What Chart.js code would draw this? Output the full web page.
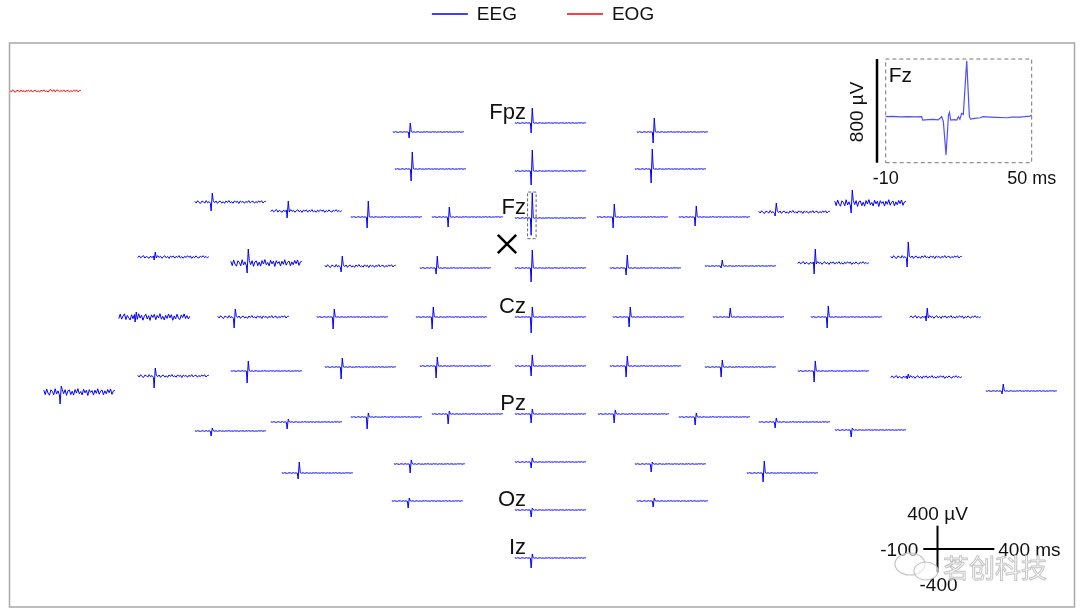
<!DOCTYPE html>
<html>
<head>
<meta charset="utf-8">
<script src="https://cdn.jsdelivr.net/npm/chart.js@4.4.1/dist/chart.umd.min.js"></script>
<style>
  html, body { margin:0; padding:0; background:#fff; }
  #wrap { width:1080px; height:615px; position:relative; }
</style>
</head>
<body>
<div id="wrap"><canvas id="chart"></canvas></div>
<script>
// montage: channel names and layout coordinates (origin = Cz, t=0 point of each trace)
const channels = ['Fp1','Fpz','Fp2','AF3','AFz','AF4',
  'F7','F5','F3','F1','Fz','F2','F4','F6','F8',
  'FT7','FC5','FC3','FC1','FCz','FC2','FC4','FC6','FT8',
  'T7','C5','C3','C1','Cz','C2','C4','C6','T8',
  'TP9','TP7','CP5','CP3','CP1','CPz','CP2','CP4','CP6','TP8','TP10',
  'P7','P5','P3','P1','Pz','P2','P4','P6','P8',
  'PO7','PO3','POz','PO4','PO8','O1','Oz','O2','Iz'];
const chanX = [-1.22,0,1.22,-1.20,0,1.20,
  -3.20,-2.44,-1.64,-0.83,0,0.82,1.64,2.44,3.20,
  -3.77,-2.84,-1.90,-0.95,0,0.95,1.90,2.83,3.76,
  -3.96,-2.97,-1.98,-0.99,0,0.98,1.98,2.96,3.95,
  -4.71,-3.77,-2.84,-1.90,-0.95,0,0.95,1.90,2.83,3.76,4.71,
  -3.20,-2.44,-1.64,-0.83,0,0.83,1.64,2.44,3.20,
  -2.33,-1.21,0,1.20,2.32,-1.23,0,1.22,0];
const chanY = [1.85,1.94,1.85,1.48,1.46,1.48,
  1.15,1.06,1.00,1.00,0.99,1.00,1.00,1.05,1.14,
  0.60,0.54,0.51,0.49,0.49,0.49,0.51,0.54,0.60,
  0,0,0,0,0,0,0,0,0,
  -0.75,-0.59,-0.54,-0.50,-0.49,-0.49,-0.49,-0.50,-0.54,-0.60,-0.74,
  -1.14,-1.05,-1.00,-0.97,-0.97,-0.97,-1.00,-1.05,-1.13,
  -1.56,-1.47,-1.45,-1.47,-1.56,-1.84,-1.93,-1.84,-2.41];

// TMS artefact peaks per channel (µV)
const spikeUp = [154,257,240,292,360,343,
  154,172,274,172,432,223,189,154,223,
  86,240,172,206,309,223,103,240,257,
  86,137,137,172,172,172,154,189,154,
  103,137,172,154,154,189,172,120,172,51,120,
  51,51,69,51,86,69,69,69,34,
  189,69,69,34,206,51,34,51,69];
const spikeDown = [-103,-172,-189,-206,-240,-240,
  -154,-120,-189,-172,-296,-189,-154,-69,-172,
  -51,-172,-103,-103,-240,-120,-34,-189,-172,
  -86,-189,-206,-206,-274,-172,-17,-189,-69,
  -206,-206,-206,-206,-206,-172,-189,-172,-189,-34,-51,
  -86,-120,-206,-172,-154,-154,-137,-103,-120,
  -103,-154,-103,-137,-154,-120,-120,-103,-172];
// baseline noise class: 0 low, 1-2 medium, 3-4 high
const noiseLevel = [0,0,0,0,0,0,
  1,2,0,0,0,0,0,1,3,
  2,3,1,0,0,0,0,2,1,
  4,1,0,0,0,0,0,0,2,
  3,1,0,0,0,0,0,0,0,2,0,
  0,0,0,0,0,0,0,0,0,
  0,0,0,0,0,0,0,0,0];

// sample times (ms), -100..400, artefact samples at 15 and 23 ms
const traceTimes = [-100,-90,-80,-70,-60,-50,-40,-30,-20,-10,0,10,15,23,
  30,40,50,60,70,80,90,100,110,120,130,140,150,160,170,180,190,200,210,220,
  230,240,250,260,270,280,290,300,310,320,330,340,350,360,370,380,390,400];

// baseline noise (µV)
const noiseLow = [3,-4,5,-2,-6,4,1,-5,6,-3, 2,-4,0,0,5,-3,4,-6,2,3,
  -4,1,-5,4,-2,6,-3,1,-4,5, -2,3,-6,4,-1,2,-5,3,-2,6, -4,1,3,-5,2,-3,4,-1,5,-4, 2,3];
const noiseMedA = [12,-18,22,-9,-25,15,6,-20,24,-14, 8,-22,0,0,19,-11,17,-24,9,14,
  -19,5,-23,18,-8,25,-13,4,-21,20, -7,13,-26,17,-4,10,-22,12,-9,24, -16,6,14,-21,9,-12,18,-5,22,-17, 8,12];
const noiseMedB = [-10,20,-15,7,23,-19,11,-6,-22,16, -12,18,0,0,-17,24,-8,13,-23,6,
  21,-14,9,-25,16,-3,19,-20,11,-7, 24,-16,5,-21,13,-10,22,-6,17,-24, 8,-13,20,-9,-18,15,-4,23,-11,10, -15,6];
const noiseHighA = [30,-45,52,-20,-55,38,12,-48,56,-33, 20,-50,0,0,44,-28,40,-58,22,35,
  -46,14,-54,42,-18,58,-31,9,-50,47, -15,32,-60,40,-8,24,-52,30,-22,56, -38,15,34,-49,20,-30,44,-12,52,-41, 18,28];
const noiseHighB = [-28,50,-36,16,55,-44,26,-14,-52,38, -30,42,0,0,-40,56,-20,32,-55,14,
  48,-34,22,-58,38,-8,45,-47,26,-16, 57,-38,12,-50,30,-24,52,-15,40,-56, 18,-32,47,-22,-42,36,-10,54,-26,24, -35,14];
const eogValues = [10,-14,18,-6,-20,12,4,-16,20,-11, 6,-18,8,-5,15,-9,14,-19,7,11,
  -15,4,-18,14,-6,20,-10,3,-17,16, 26,-8,22,-14,18,8,-12,10,-7,19, -13,5,11,-17,7,-10,14,-4,18,-14, 6,10];
const eogPos = [-5.05, 2.26];

// Fz, -10..50 ms detail (inset)
const fzZoomTimes = [-10,-7,-4,-1,2,4.8,5.2,7.5,9.6,11.6,13.0,13.7,14.8,15.8,16.2,16.7,18.1,19.2,19.9,20.5,
  21.2,21.9,23.3,24.4,24.9,26.7,28.8,30.1,33,35.6,39.7,42,45.2,47,49.3,50];
const fzZoomValues = [0,2,-2,1,-1,0,-26,-22,-20,-25,0,-38,-296,13,33,-26,-22,-26,0,-20,
  26,18,432,0,-18,-13,-8,0,-3,-5,-8,-4,-3,0,5,13];
const zoomWindowMs = [-10, 50];
const zoomWindowUv = [-355, 445];
const scaleBarMs = [-100, 400];
const scaleBarUv = [-400, 400];
const midlineLabels = ['Fpz','Fz','Cz','Pz','Oz','Iz'];
const stimSite = [-0.22, 0.73];

// drawing scale (layout units per ms / per µV) and placement of inset + scale bar
const MS = 0.00142, UV = 0.000583;
const inset = { x0: 3.567, y0: 2.003, ms: 0.02433, uv: 0.001296, barGap: 0.087 };
const bar = { x0: 4.085, y0: -2.32 };

const EEG = '#0000ff', EOG = '#ff0000';
const noiseSets = [noiseLow, noiseMedA, noiseMedB, noiseHighA, noiseHighB];

const lineSet = (data, color, width, extra) => Object.assign({
  data, showLine: true, pointRadius: 0, borderColor: color, borderWidth: width, tension: 0
}, extra || {});

const datasets = [];
channels.forEach((name, i) => {
  const pts = traceTimes.map((t, k) => {
    let v = noiseSets[noiseLevel[i]][k];
    if (k === 12) v += spikeDown[i];
    if (k === 13) v += spikeUp[i];
    return { x: chanX[i] + t * MS, y: chanY[i] + v * UV };
  });
  datasets.push(lineSet(pts, EEG, 1, { label: name }));
});
datasets.push(lineSet(traceTimes.map((t, k) => ({ x: eogPos[0] + t * MS, y: eogPos[1] + eogValues[k] * UV })), EOG, 1, { label: 'EOG' }));

// zoom window outline on the Fz trace and around the inset
const fz = channels.indexOf('Fz');
const winCorners = [[0,0],[1,0],[1,1],[0,1],[0,0]];
datasets.push(lineSet(winCorners.map(([a, b]) => ({
  x: chanX[fz] + zoomWindowMs[a] * MS, y: chanY[fz] + zoomWindowUv[b] * UV })), '#666', 1, { borderDash: [3, 2] }));
datasets.push(lineSet(winCorners.map(([a, b]) => ({
  x: inset.x0 + (zoomWindowMs[a] - zoomWindowMs[0]) * inset.ms, y: inset.y0 + zoomWindowUv[b] * inset.uv })), '#777', 1, { borderDash: [4, 3] }));
datasets.push(lineSet(fzZoomTimes.map((t, k) => ({
  x: inset.x0 + (t - zoomWindowMs[0]) * inset.ms, y: inset.y0 + fzZoomValues[k] * inset.uv })), 'rgba(70,70,255,0.95)', 1.2));
datasets.push(lineSet(zoomWindowUv.map(v => ({ x: inset.x0 - inset.barGap, y: inset.y0 + v * inset.uv })), '#000', 2.5));

// scale bar
datasets.push(lineSet(scaleBarMs.map(t => ({ x: bar.x0 + t * MS, y: bar.y0 })), '#000', 2));
datasets.push(lineSet(scaleBarUv.map(v => ({ x: bar.x0, y: bar.y0 + v * UV })), '#000', 2));

// stimulation site
datasets.push({ data: [{ x: stimSite[0], y: stimSite[1] }], showLine: false, pointStyle: 'crossRot',
  pointRadius: 13, borderColor: '#000', borderWidth: 2.5, backgroundColor: '#000' });

const annotate = {
  id: 'annotate',
  afterDraw(chart) {
    const { ctx, chartArea: a, scales: { x, y } } = chart;
    const font = 'Liberation Sans, Arial, sans-serif';
    ctx.save();
    ctx.strokeStyle = '#a8a8a8'; ctx.lineWidth = 1.5;
    ctx.strokeRect(a.left - 0.5, a.top, a.right - a.left, a.bottom - a.top);

    // legend
    ctx.font = '19px ' + font; ctx.textBaseline = 'middle'; ctx.textAlign = 'left';
    const items = [['EEG', EEG], ['EOG', EOG]];
    const widths = items.map(it => 36 + 9 + ctx.measureText(it[0]).width);
    let lx = chart.width / 2 + 3 - (widths[0] + widths[1] + 50) / 2;
    items.forEach((it, i) => {
      ctx.strokeStyle = it[1]; ctx.lineWidth = 1.5;
      ctx.beginPath(); ctx.moveTo(lx, 14); ctx.lineTo(lx + 36, 14); ctx.stroke();
      ctx.fillStyle = '#111'; ctx.fillText(it[0], lx + 45, 15);
      lx += widths[i] + 50;
    });

    // midline channel labels
    ctx.font = '22px ' + font; ctx.textAlign = 'right'; ctx.textBaseline = 'alphabetic';
    midlineLabels.forEach(n => {
      const i = channels.indexOf(n);
      ctx.fillText(n, x.getPixelForValue(chanX[i]) - 3, y.getPixelForValue(chanY[i]) - 4);
    });

    // inset labels
    const ix0 = x.getPixelForValue(inset.x0);
    const ix1 = x.getPixelForValue(inset.x0 + (zoomWindowMs[1] - zoomWindowMs[0]) * inset.ms);
    const iTop = y.getPixelForValue(inset.y0 + zoomWindowUv[1] * inset.uv);
    const iBot = y.getPixelForValue(inset.y0 + zoomWindowUv[0] * inset.uv);
    ctx.font = '21px ' + font; ctx.textAlign = 'left'; ctx.textBaseline = 'middle';
    ctx.fillText('Fz', ix0 + 3, iTop + 17);
    ctx.font = '18px ' + font; ctx.textAlign = 'center';
    ctx.fillText(zoomWindowMs[0], ix0, iBot + 16);
    ctx.fillText(zoomWindowMs[1] + ' ms', ix1, iBot + 16);
    const barPx = x.getPixelForValue(inset.x0 - inset.barGap);
    ctx.save();
    ctx.translate(barPx - 19, (iTop + iBot) / 2 + 1);
    ctx.rotate(-Math.PI / 2);
    ctx.font = '19px ' + font;
    ctx.fillText((zoomWindowUv[1] - zoomWindowUv[0]) + ' µV', 0, 0);
    ctx.restore();

    // scale bar labels
    const bx = x.getPixelForValue(bar.x0), by = y.getPixelForValue(bar.y0);
    const bl = x.getPixelForValue(bar.x0 + scaleBarMs[0] * MS), br = x.getPixelForValue(bar.x0 + scaleBarMs[1] * MS);
    const bt = y.getPixelForValue(bar.y0 + scaleBarUv[1] * UV), bb = y.getPixelForValue(bar.y0 + scaleBarUv[0] * UV);
    ctx.font = '19px ' + font; ctx.textBaseline = 'middle';
    ctx.textAlign = 'center';
    ctx.fillText(scaleBarUv[1] + ' µV', bx, bt - 11);
    ctx.fillText(scaleBarUv[0], bx + 1, bb + 13);
    ctx.textAlign = 'right'; ctx.fillText(scaleBarMs[0], bl - 5, by + 2);
    ctx.textAlign = 'left'; ctx.fillText(scaleBarMs[1] + ' ms', br + 4, by + 2);

    // watermark
    ctx.strokeStyle = '#c4c4c4'; ctx.lineWidth = 1.2; ctx.fillStyle = 'rgba(255,255,255,0.55)';
    ctx.beginPath(); ctx.ellipse(910, 564, 15, 11, 0, 0, Math.PI * 2); ctx.fill(); ctx.stroke();
    ctx.beginPath(); ctx.ellipse(926, 571, 12, 9, 0, 0, Math.PI * 2); ctx.fill(); ctx.stroke();
    ctx.font = '26px "Noto Sans CJK SC", sans-serif'; ctx.textAlign = 'left'; ctx.textBaseline = 'middle';
    ctx.lineWidth = 1;
    ctx.fillText('茗创科技', 943, 568);
    ctx.strokeText('茗创科技', 943, 568);
    ctx.restore();
  }
};

new Chart(document.getElementById('chart'), {
  type: 'scatter',
  data: { datasets },
  options: {
    responsive: true,
    maintainAspectRatio: false,
    animation: false,
    events: [],
    layout: { autoPadding: false, padding: { left: 10, top: 43, right: 5, bottom: 8 } },
    scales: {
      x: { display: false, min: -5.19, max: 5.46 },
      y: { display: false, min: -2.90, max: 2.74 }
    },
    plugins: { legend: { display: false }, tooltip: { enabled: false } }
  },
  plugins: [annotate]
});
</script>
</body>
</html>
